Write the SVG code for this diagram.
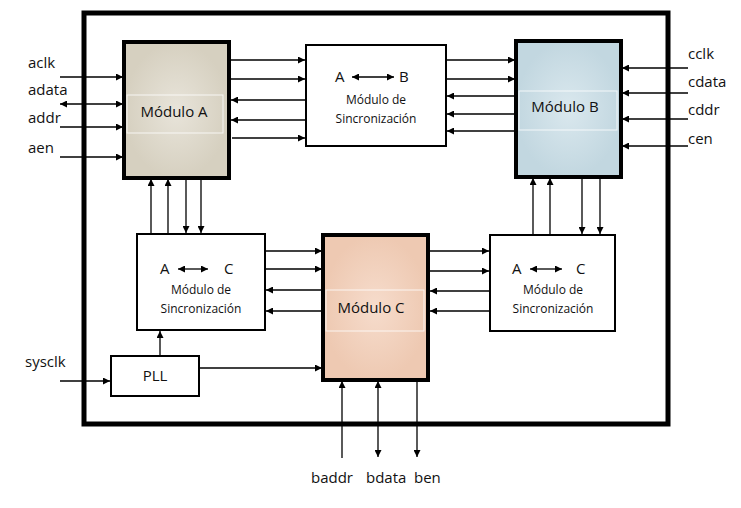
<svg xmlns="http://www.w3.org/2000/svg" width="741" height="508" viewBox="0 0 741 508">
<style>
.t{font-family:"Open Sans","Liberation Sans",sans-serif;fill:#111}
.lab{font-size:15px}
.s{font-size:12px}
.c{stroke:#000;stroke-width:1.3;fill:none}
.box{fill:#fff;stroke:#000;stroke-width:2}
.mod{stroke:#000;stroke-width:4}
.band{fill:none;stroke:#fff;stroke-width:1;opacity:.8}
</style>
<defs>
<marker id="ah" viewBox="0 0 10 10" refX="10" refY="5" markerWidth="8" markerHeight="7" orient="auto-start-reverse" markerUnits="userSpaceOnUse"><path d="M0,0L10,5L0,10z" fill="#000"/></marker>
<radialGradient id="ga"><stop offset="0" stop-color="#e8e4da"/><stop offset="1" stop-color="#d6d0c0"/></radialGradient>
<radialGradient id="gb"><stop offset="0" stop-color="#dae8ee"/><stop offset="1" stop-color="#c2d7e0"/></radialGradient>
<radialGradient id="gc"><stop offset="0" stop-color="#f6dccc"/><stop offset="1" stop-color="#eec9b2"/></radialGradient>
</defs>
<rect width="741" height="508" fill="#fff"/>
<rect x="84" y="13" width="584" height="411" fill="none" stroke="#000" stroke-width="5"/>
<g id="modA"><rect class="mod" x="124" y="42" width="105" height="136" fill="url(#ga)"/><rect class="band" x="127" y="95" width="96" height="38"/><text class="t lab" x="174" y="117" text-anchor="middle">Módulo A</text></g>
<g id="modB"><rect class="mod" x="516" y="41" width="105" height="136" fill="url(#gb)"/><rect class="band" x="519" y="91" width="98" height="39"/><text class="t lab" x="565" y="112" text-anchor="middle">Módulo B</text></g>
<g id="modC"><rect class="mod" x="323" y="235" width="105" height="145" fill="url(#gc)"/><rect class="band" x="326" y="290" width="98" height="41"/><text class="t lab" x="371" y="313" text-anchor="middle">Módulo C</text></g>
<g id="syncAB"><rect class="box" x="306" y="45" width="140" height="101"/><text class="t lab" x="335" y="82">A</text><text class="t lab" x="399" y="82">B</text><line class="c" x1="352" y1="77" x2="394" y2="77" marker-start="url(#ah)" marker-end="url(#ah)"/><text class="t s" x="376" y="104" text-anchor="middle">Módulo de</text><text class="t s" x="376" y="123" text-anchor="middle">Sincronización</text></g>
<g id="syncAC"><rect class="box" x="137" y="234" width="128" height="96"/><text class="t lab" x="160" y="274">A</text><text class="t lab" x="224" y="274">C</text><line class="c" x1="178" y1="269" x2="208" y2="269" marker-start="url(#ah)" marker-end="url(#ah)"/><text class="t s" x="201" y="294" text-anchor="middle">Módulo de</text><text class="t s" x="201" y="313" text-anchor="middle">Sincronización</text></g>
<g id="syncBC"><rect class="box" x="490" y="235" width="125" height="96"/><text class="t lab" x="512" y="274">A</text><text class="t lab" x="576" y="274">C</text><line class="c" x1="530" y1="269" x2="562" y2="269" marker-start="url(#ah)" marker-end="url(#ah)"/><text class="t s" x="553" y="294" text-anchor="middle">Módulo de</text><text class="t s" x="553" y="313" text-anchor="middle">Sincronización</text></g>
<g id="pll"><rect class="box" x="111" y="356" width="88" height="40"/><text class="t lab" x="155" y="381" text-anchor="middle">PLL</text></g>
<g id="labels">
<text class="t lab" x="28" y="68">aclk</text><text class="t lab" x="28" y="95">adata</text><text class="t lab" x="28" y="123">addr</text><text class="t lab" x="28" y="153">aen</text>
<text class="t lab" x="688" y="59">cclk</text><text class="t lab" x="688" y="87">cdata</text><text class="t lab" x="688" y="115">cddr</text><text class="t lab" x="688" y="144">cen</text>
<text class="t lab" x="25" y="367">sysclk</text>
<text class="t lab" x="311" y="483">baddr</text><text class="t lab" x="366" y="483">bdata</text><text class="t lab" x="414" y="483">ben</text>
</g>
<g id="connectors" class="c" marker-end="url(#ah)">
<line x1="60" y1="77" x2="123" y2="77"/><line x1="60" y1="104" x2="123" y2="104" marker-start="url(#ah)"/><line x1="60" y1="127" x2="123" y2="127"/><line x1="60" y1="157" x2="123" y2="157"/>
<line x1="231" y1="60" x2="305" y2="60"/><line x1="231" y1="79" x2="305" y2="79"/><line x1="306" y1="100" x2="231" y2="100"/><line x1="306" y1="120" x2="231" y2="120"/><line x1="232" y1="138" x2="305" y2="138"/>
<line x1="446" y1="60" x2="515" y2="60"/><line x1="446" y1="79" x2="515" y2="79"/><line x1="516" y1="96" x2="447" y2="96"/><line x1="516" y1="114" x2="447" y2="114"/><line x1="516" y1="131" x2="447" y2="131"/>
<line x1="688" y1="68" x2="622" y2="68"/><line x1="688" y1="93" x2="622" y2="93"/><line x1="688" y1="119" x2="622" y2="119"/><line x1="688" y1="146" x2="622" y2="146"/>
<line x1="151" y1="234" x2="151" y2="179"/><line x1="168" y1="234" x2="168" y2="179"/><line x1="186" y1="179" x2="186" y2="233"/><line x1="201" y1="179" x2="201" y2="233"/>
<line x1="533" y1="235" x2="533" y2="178"/><line x1="550" y1="235" x2="550" y2="178"/><line x1="582" y1="178" x2="582" y2="234"/><line x1="600" y1="178" x2="600" y2="234"/>
<line x1="265" y1="251" x2="322" y2="251"/><line x1="265" y1="269" x2="322" y2="269"/><line x1="323" y1="290" x2="266" y2="290"/><line x1="323" y1="311" x2="266" y2="311"/>
<line x1="429" y1="251" x2="489" y2="251"/><line x1="429" y1="271" x2="489" y2="271"/><line x1="490" y1="291" x2="430" y2="291"/><line x1="490" y1="311" x2="430" y2="311"/>
<line x1="160" y1="356" x2="160" y2="331"/><line x1="199" y1="368" x2="322" y2="368"/><line x1="60" y1="381" x2="110" y2="381"/>
<line x1="342" y1="458" x2="342" y2="381"/><line x1="378" y1="381" x2="378" y2="457" marker-start="url(#ah)"/><line x1="417" y1="381" x2="417" y2="457"/>
</g>
</svg>
